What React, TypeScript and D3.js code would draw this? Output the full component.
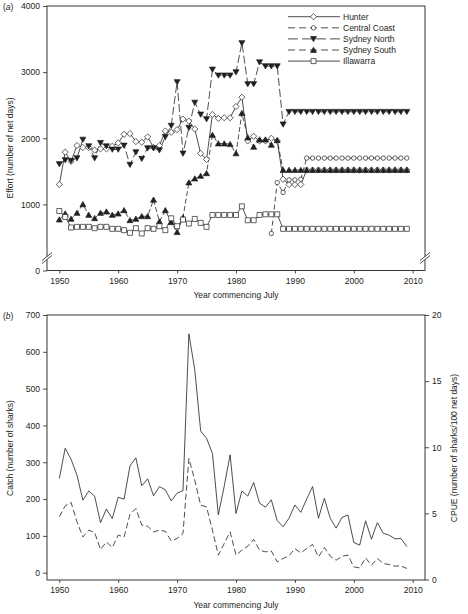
import React, { useEffect, useRef } from 'react';
import * as d3 from 'd3';

const years = d3.range(1950, 2010);

const hunterEffort = [
  1300, 1790, 1650, 1890, 1860, 1860, 1820, 1840, 1840, 1880,
  1930, 2060, 2070, 1950, 1940, 2020, 1860, 1890, 2110, 2090,
  2130, 2290, 2260, 2140, 1770, 1680, 2360, 2300, 2310, 2310,
  2480, 2620, 1960, 2030, 1960, 1960, 2000, 1960, 1380, 1300,
  1300, 1300, 1520, 1520, 1520, 1520, 1520, 1520, 1520, 1520,
  1520, 1520, 1520, 1520, 1520, 1520, 1520, 1520, 1520, 1520,
];

const centralCoastEffort: (number | null)[] = [
  null, null, null, null, null, null, null, null, null, null,
  null, null, null, null, null, null, null, null, null, null,
  null, null, null, null, null, null, null, null, null, null,
  null, null, null, null, null, null, 560, 1330, 1180, 1370,
  1370, 1380, 1700, 1700, 1700, 1700, 1700, 1700, 1700, 1700,
  1700, 1700, 1700, 1700, 1700, 1700, 1700, 1700, 1700, 1700,
];

const sydneyNorthEffort = [
  1610, 1670, 1660, 1700, 1980, 1880, 1700, 1930, 1880, 1830,
  1830, 1890, 1600, 1790, 1690, 1850, 1850, 1820, 2020, 2190,
  2850, 1770, 2160, 2540, 2360, 2290, 3040, 2950, 2950, 2950,
  3000, 3440, 2820, 2820, 3150, 3090, 3090, 3090, 2210, 2400,
  2400, 2400, 2400, 2400, 2400, 2400, 2400, 2400, 2400, 2400,
  2400, 2400, 2400, 2400, 2400, 2400, 2400, 2400, 2400, 2400,
];

const sydneySouthEffort = [
  770, 860, 780, 870, 1000, 840, 790, 870, 890, 840,
  860, 910, 760, 780, 820, 820, 1070, 740, 910, 730,
  580, 800, 1330, 1390, 1430, 1470, 2050, 1920, 1920, 1910,
  1770, 2380, 2010, 1870, 1980, 1980, 1900, 1970, 1520, 1520,
  1520, 1520, 1520, 1520, 1520, 1520, 1520, 1520, 1520, 1520,
  1520, 1520, 1520, 1520, 1520, 1520, 1520, 1520, 1520, 1520,
];

const illawarraEffort = [
  900, 810, 650, 660, 660, 660, 640, 660, 660, 630,
  630, 610, 570, 640, 560, 640, 630, 670, 610, 790,
  670, 770, 710, 780, 720, 660, 840, 840, 840, 840,
  840, 970, 760, 760, 840, 850, 850, 850, 630, 630,
  630, 630, 630, 630, 630, 630, 630, 630, 630, 630,
  630, 630, 630, 630, 630, 630, 630, 630, 630, 630,
];

const catchSharks = [
  256, 338, 308, 265, 197, 222, 208, 136, 173, 147,
  205, 200, 290, 312, 236, 255, 209, 234, 225, 195,
  216, 223, 649, 551, 385, 365, 324, 157, 235, 320,
  161, 222, 208, 245, 189, 178, 198, 141, 125, 148,
  184, 164, 200, 234, 148, 202, 148, 121, 150, 157,
  82, 75, 141, 91, 136, 107, 102, 92, 93, 71,
];

const cpue = [
  4.74, 5.57, 5.82, 4.36, 3.22, 3.73, 3.55, 2.27, 2.84, 2.42,
  3.35, 3.22, 4.92, 5.37, 4.11, 4.03, 3.6, 3.73, 3.65, 2.92,
  3.1, 3.48, 9.15, 7.51, 5.62, 5.49, 3.73, 1.84, 2.72, 3.6,
  1.84, 2.22, 2.52, 3.03, 2.22, 2.09, 2.16, 1.33, 1.59, 1.79,
  2.34, 2.01, 2.34, 2.65, 1.71, 2.42, 1.76, 1.46, 1.76, 1.84,
  0.95, 0.88, 1.63, 1.08, 1.59, 1.21, 1.13, 1.01, 1.03, 0.83,
];

const xTicks = [1950, 1960, 1970, 1980, 1990, 2000, 2010];
const effortTicks = [0, 1000, 2000, 3000, 4000];
const catchTicks = [0, 100, 200, 300, 400, 500, 600, 700];
const cpueTicks = [0, 5, 10, 15, 20];

type Marker = 'diamond' | 'circle' | 'triDown' | 'triUp' | 'square';

const effortSeries: { name: string; values: (number | null)[]; marker: Marker; dash: string | null }[] = [
  { name: 'Hunter', values: hunterEffort, marker: 'diamond', dash: null },
  { name: 'Central Coast', values: centralCoastEffort, marker: 'circle', dash: '5,3' },
  { name: 'Sydney North', values: sydneyNorthEffort, marker: 'triDown', dash: '8,3' },
  { name: 'Sydney South', values: sydneySouthEffort, marker: 'triUp', dash: '5,2.5' },
  { name: 'Illawarra', values: illawarraEffort, marker: 'square', dash: null },
];

const INK = '#231f20';
const FONT = '"Liberation Sans", Arial, sans-serif';

const markerPath = (type: Marker, x: number, y: number): string => {
  switch (type) {
    case 'diamond':
      return `M${x},${y - 3.1}L${x + 3.1},${y}L${x},${y + 3.1}L${x - 3.1},${y}Z`;
    case 'circle':
      return `M${x + 2.2},${y}A2.2,2.2 0 1,1 ${x - 2.2},${y}A2.2,2.2 0 1,1 ${x + 2.2},${y}Z`;
    case 'triDown':
      return `M${x - 3},${y - 2.4}L${x + 3},${y - 2.4}L${x},${y + 2.8}Z`;
    case 'triUp':
      return `M${x - 3},${y + 2.4}L${x + 3},${y + 2.4}L${x},${y - 2.8}Z`;
    default:
      return `M${x - 2.5},${y - 2.5}h5v5h-5Z`;
  }
};

const isFilled = (m: Marker) => m === 'triDown' || m === 'triUp';

export default function App() {
  const svgRef = useRef<SVGSVGElement>(null);

  useEffect(() => {
    if (!svgRef.current) return;
    const svg = d3.select(svgRef.current);
    svg.selectAll('*').remove();

    const left = 47;
    const right = 425;

    const x = d3.scaleLinear().domain([1950, 2010]).range([59.3, 412.7]);

    const styleTicks = (sel: d3.Selection<SVGGElement, unknown, null, undefined>) => {
      sel.select('.domain').remove();
      sel.selectAll('line').attr('stroke', INK).attr('stroke-width', 0.8);
      sel.selectAll('text').attr('fill', INK).style('font-family', FONT).style('font-size', '8.6px');
    };

    // ---------- Panel (a): effort ----------
    const aTop = 6;
    const aBottom = 270.5;
    const yA = d3.scaleLinear().domain([0, 4000]).range([aBottom, aTop]);

    const a = svg.append('g');

    a.append('rect')
      .attr('x', left).attr('y', aTop)
      .attr('width', right - left).attr('height', aBottom - aTop)
      .attr('fill', 'none').attr('stroke', INK).attr('stroke-width', 0.9);

    a.append('g')
      .attr('transform', `translate(${left},0)`)
      .call(d3.axisLeft(yA).tickValues(effortTicks).tickFormat(d3.format('d')).tickSize(4).tickPadding(3))
      .call(styleTicks);

    a.append('g')
      .attr('transform', `translate(0,${aBottom})`)
      .call(d3.axisBottom(x).tickValues(xTicks).tickFormat(d3.format('d')).tickSize(3).tickPadding(4))
      .call(styleTicks);

    // axis breaks
    [left, right].forEach(bx => {
      const by = 257.5;
      a.append('path')
        .attr('d', `M${bx - 5},${by + 3}L${bx + 5},${by - 5}L${bx + 5},${by - 2}L${bx - 5},${by + 6}Z`)
        .attr('fill', 'white');
      [0, 3].forEach(off => {
        a.append('line')
          .attr('x1', bx - 5).attr('y1', by + 3 + off)
          .attr('x2', bx + 5).attr('y2', by - 5 + off)
          .attr('stroke', INK).attr('stroke-width', 0.8);
      });
    });

    const lineA = d3.line<number | null>()
      .defined(d => d !== null)
      .x((_, i) => x(years[i]))
      .y(d => yA(d as number));

    effortSeries.forEach(s => {
      a.append('path')
        .datum(s.values)
        .attr('d', lineA)
        .attr('fill', 'none')
        .attr('stroke', INK)
        .attr('stroke-width', 0.8)
        .attr('stroke-dasharray', s.dash);
    });

    effortSeries.forEach(s => {
      a.append('g')
        .selectAll('path')
        .data(s.values.map((v, i) => ({ v, yr: years[i] })).filter(p => p.v !== null))
        .join('path')
        .attr('d', p => markerPath(s.marker, x(p.yr), yA(p.v as number)))
        .attr('fill', isFilled(s.marker) ? INK : 'white')
        .attr('stroke', INK)
        .attr('stroke-width', 0.7);
    });

    // legend
    const legend = a.append('g');
    effortSeries.forEach((s, i) => {
      const ly = 16.7 + i * 11.1;
      legend.append('line')
        .attr('x1', 288).attr('x2', 340).attr('y1', ly).attr('y2', ly)
        .attr('stroke', INK).attr('stroke-width', 0.8)
        .attr('stroke-dasharray', s.dash ? (s.dash === '8,3' ? '10,4' : '7,4') : null);
      legend.append('path')
        .attr('d', markerPath(s.marker, 313.5, ly))
        .attr('fill', isFilled(s.marker) ? INK : 'white')
        .attr('stroke', INK).attr('stroke-width', 0.7);
      legend.append('text')
        .attr('x', 343).attr('y', ly + 3)
        .attr('fill', INK)
        .style('font-family', FONT).style('font-size', '8.5px')
        .text(s.name);
    });

    a.append('text')
      .attr('transform', `translate(13,148) rotate(-90)`)
      .attr('text-anchor', 'middle')
      .attr('fill', INK)
      .style('font-family', FONT).style('font-size', '8.5px')
      .text('Effort (number of net days)');

    a.append('text')
      .attr('x', (left + right) / 2).attr('y', 298)
      .attr('text-anchor', 'middle')
      .attr('fill', INK)
      .style('font-family', FONT).style('font-size', '8.5px')
      .text('Year commencing July');

    const labA = a.append('text').attr('x', 3).attr('y', 9.5).attr('fill', INK)
      .style('font-family', FONT).style('font-size', '8.5px');
    labA.append('tspan').text('(');
    labA.append('tspan').style('font-style', 'italic').text('a');
    labA.append('tspan').text(')');

    // ---------- Panel (b): catch and CPUE ----------
    const bTop = 315;
    const bBottom = 580;
    const yCatch = d3.scaleLinear().domain([0, 700]).range([572.7, bTop]);
    const yCpue = d3.scaleLinear().domain([0, 20]).range([579.5, bTop]);

    const b = svg.append('g');

    b.append('rect')
      .attr('x', left).attr('y', bTop)
      .attr('width', right - left).attr('height', bBottom - bTop)
      .attr('fill', 'none').attr('stroke', INK).attr('stroke-width', 0.9);

    b.append('g')
      .attr('transform', `translate(${left},0)`)
      .call(d3.axisLeft(yCatch).tickValues(catchTicks).tickFormat(d3.format('d')).tickSize(4).tickPadding(3))
      .call(styleTicks);

    b.append('g')
      .attr('transform', `translate(${right},0)`)
      .call(d3.axisRight(yCpue).tickValues(cpueTicks).tickFormat(d3.format('d')).tickSize(4).tickPadding(3))
      .call(styleTicks);

    b.append('g')
      .attr('transform', `translate(0,${bBottom})`)
      .call(d3.axisBottom(x).tickValues(xTicks).tickFormat(d3.format('d')).tickSize(3).tickPadding(4))
      .call(styleTicks);

    b.append('path')
      .datum(catchSharks)
      .attr('d', d3.line<number>().x((_, i) => x(years[i])).y(d => yCatch(d)))
      .attr('fill', 'none').attr('stroke', INK).attr('stroke-width', 0.8);

    b.append('path')
      .datum(cpue)
      .attr('d', d3.line<number>().x((_, i) => x(years[i])).y(d => yCpue(d)))
      .attr('fill', 'none').attr('stroke', INK).attr('stroke-width', 0.8)
      .attr('stroke-dasharray', '6,3');

    b.append('text')
      .attr('transform', `translate(13,448) rotate(-90)`)
      .attr('text-anchor', 'middle')
      .attr('fill', INK)
      .style('font-family', FONT).style('font-size', '8.5px')
      .text('Catch (number of sharks)');

    b.append('text')
      .attr('transform', `translate(457,448) rotate(-90)`)
      .attr('text-anchor', 'middle')
      .attr('fill', INK)
      .style('font-family', FONT).style('font-size', '8.5px')
      .text('CPUE (number of sharks/100 net days)');

    b.append('text')
      .attr('x', (left + right) / 2).attr('y', 607.5)
      .attr('text-anchor', 'middle')
      .attr('fill', INK)
      .style('font-family', FONT).style('font-size', '8.5px')
      .text('Year commencing July');

    const labB = b.append('text').attr('x', 3).attr('y', 318.5).attr('fill', INK)
      .style('font-family', FONT).style('font-size', '8.5px');
    labB.append('tspan').text('(');
    labB.append('tspan').style('font-style', 'italic').text('b');
    labB.append('tspan').text(')');
  }, []);

  return (
    <svg
      ref={svgRef}
      width={468}
      height={614}
      style={{ position: 'absolute', left: 0, top: 0, display: 'block', background: 'white' }}
    />
  );
}
